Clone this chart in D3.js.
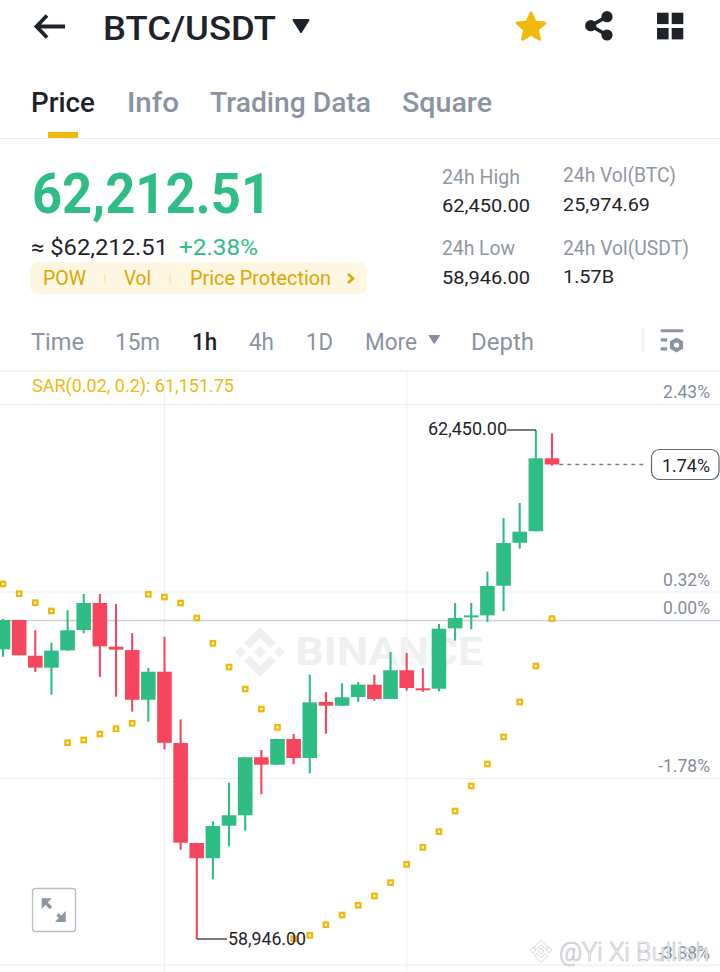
<!DOCTYPE html>
<html>
<head>
<meta charset="utf-8">
<script src="https://cdn.jsdelivr.net/npm/d3@7/dist/d3.min.js"></script>
<style>
html,body{margin:0;padding:0;background:#fff;overflow:hidden}
svg{display:block}
text{font-family:Roboto,"Noto Sans",sans-serif}
</style>
</head>
<body>
<svg id="c" width="720" height="972" viewBox="0 0 720 972"></svg>
<script>
// ---- data ----
const opens  = [60940,61142,60896,60814,60933,61073,61259,60958,60935,60593,60786,60295,59607,59502,59726,59798,60197,60146,60323,60192,60578,60552,60612,60697,60598,60796,60672,60669,61085,61161,61174,61378,61674,61753,62255];
const closes = [61142,60899,60814,60931,61071,61259,60961,60938,60593,60786,60297,59609,59502,59724,59798,60197,60146,60323,60192,60575,60552,60610,60697,60598,60796,60674,60658,61082,61156,61174,61376,61672,61750,62255,62212.51];
const highs  = [61149,61142,61071,60986,61209,61321,61321,61252,61052,60812,61027,60458,59607,59756,60022,60197,60247,60323,60357,60765,60646,60706,60715,60765,60922,60915,60810,61115,61259,61259,61475,61844,61947,62450,62427];
const lows   = [60889,60899,60784,60628,60929,61050,60750,60614,60511,60442,60252,59561,58946,59357,59584,59692,59942,60146,60149,60087,60359,60552,60578,60586,60598,60655,60648,60651,61000,61078,61128,61204,61633,61753,62204];
const sar    = [61390,61323,61261,61204,60297,60316,60357,60394,60431,61319,61300,61259,61156,60982,60818,60667,60529,60403,58948,58971,59044,59111,59178,59242,59334,59460,59577,59685,59827,59999,60151,60337,60578,60825,61151.75];
const pctTicks = [2.43,0.32,0,-1.78,-3.88];
const basePrice = 61139;
const lastPct = 1.74;
const lastPrice = 62212.51;
const dayHigh = 62450.00, dayLow = 58946.00;
const tabs = ["Price","Info","Trading Data","Square"];
const intervals = ["Time","15m","1h","4h","1D","More","Depth"];

// ---- palette ----
const INK="#1e2329", GRAY="#848e9c", GREEN="#2ebd85", RED="#f6465d", GOLD="#f0b90b", AMBER="#dea600", LINE="#eef0f2", WM="#eff0f2";

const svg = d3.select("#c");
function label(g,str,x0,x1,base,size,color,weight){
  const t=g.append("text").attr("x",x0).attr("y",base).attr("font-size",size).attr("fill",color).attr("font-weight",weight||400).text(str);
  if(x1!=null) t.attr("textLength",x1-x0).attr("lengthAdjust","spacingAndGlyphs");
  return t;
}

// ---- header ----
const head = svg.append("g");
head.append("path").attr("d","M65 26.5H38M47 15.5L36.5 26.5L47 37.5").attr("fill","none").attr("stroke",INK).attr("stroke-width",3.8);
label(head,"BTC/USDT",103,276,39.5,34,INK,500);
head.append("path").attr("d","M293.5 20H308.5L301 32Z").attr("fill",INK).attr("stroke",INK).attr("stroke-width",2).attr("stroke-linejoin","round");
const starPts = d3.range(10).map(i=>{const r=i%2?6.6:14.5,a=-Math.PI/2+i*Math.PI/5;return [531+r*Math.cos(a),27.5+r*Math.sin(a)];});
head.append("path").attr("d",d3.line()(starPts)+"Z").attr("fill",GOLD).attr("stroke",GOLD).attr("stroke-width",3).attr("stroke-linejoin","round");
head.append("path").attr("d","M607 16.7L590.7 25.7L607 35").attr("fill","none").attr("stroke",INK).attr("stroke-width",3.6);
[[607,16.7],[590.7,25.7],[607,35]].forEach(p=>head.append("circle").attr("cx",p[0]).attr("cy",p[1]).attr("r",5.6).attr("fill",INK));
[[657,12.7],[671.7,12.7],[657,28],[671.7,28]].forEach(p=>head.append("rect").attr("x",p[0]).attr("y",p[1]).attr("width",11.6).attr("height",11.4).attr("fill",INK));

// ---- tabs ----
const tabSpan=[[31,95],[127,179],[210,371],[402,492]];
tabs.forEach((t,i)=>label(head,t,tabSpan[i][0],tabSpan[i][1],112,27,i===0?INK:"#8a93a2",500));
head.append("rect").attr("x",48).attr("y",132).attr("width",30).attr("height",6).attr("fill",GOLD);
head.append("rect").attr("x",0).attr("y",138).attr("width",720).attr("height",1).attr("fill","#eaecef");

// ---- price panel ----
const panel = svg.append("g");
label(panel,d3.format(",.2f")(lastPrice),32,271,212.5,55,GREEN,700);
label(panel,"≈ $62,212.51",31,168,255,22,INK,400);
label(panel,"+2.38%",179,258,255,22,GREEN,400);
panel.append("rect").attr("x",30).attr("y",262).attr("width",337).attr("height",32).attr("rx",8).attr("fill","#fdf6e1");
label(panel,"POW",43,86,285,20,AMBER);
label(panel,"Vol",124,151,285,20,AMBER);
label(panel,"Price Protection",190,331,285,20,AMBER);
panel.selectAll(".sp").data([105,170]).join("rect").attr("x",d=>d-.75).attr("y",274).attr("width",1.5).attr("height",9).attr("fill","#f8e6a8");
panel.append("path").attr("d","M348 274L353 278.5L348 283").attr("fill","none").attr("stroke",AMBER).attr("stroke-width",2.6);
const stat="#8f97a5";
label(panel,"24h High",442,520,184,20,stat);
label(panel,d3.format(",.2f")(dayHigh),442,530,211.5,19,INK);
label(panel,"24h Vol(BTC)",563,676,182,20,stat);
label(panel,"25,974.69",563,650,211,19,INK);
label(panel,"24h Low",442,515,255,20,stat);
label(panel,d3.format(",.2f")(dayLow),442,530,284,19,INK);
label(panel,"24h Vol(USDT)",563,689,255,20,stat);
label(panel,"1.57B",563,614,283,19,INK);

// ---- interval bar ----
const bar = svg.append("g");
const intSpan=[[31,84],[115,160],[192,217],[249,274],[306,333],[365,417],[471,534]];
intervals.forEach((t,i)=>label(bar,t,intSpan[i][0],intSpan[i][1],349.5,24,t==="1h"?INK:"#8a93a2",t==="1h"?500:400));
bar.append("path").attr("d","M429 335.5H439.5L434.2 343.5Z").attr("fill",GRAY).attr("stroke",GRAY).attr("stroke-linejoin","round");
bar.append("rect").attr("x",642).attr("y",328).attr("width",1.5).attr("height",24).attr("fill","#eaecef");
bar.append("rect").attr("x",660.7).attr("y",329.3).attr("width",22.6).attr("height",3).attr("fill","#8d95a3");
[338.3,347.3].forEach(y=>bar.append("rect").attr("x",660.7).attr("y",y).attr("width",6.5).attr("height",3.2).attr("fill","#8d95a3"));
const hex=d3.range(6).map(i=>{const a=Math.PI/2+i*Math.PI/3;return [676.5+7.6*Math.cos(a),345+7.6*Math.sin(a)];});
bar.append("path").attr("d",d3.line()(hex)+"Z").attr("fill","#8d95a3");
bar.append("circle").attr("cx",676.5).attr("cy",345).attr("r",2.6).attr("fill","#fff");
bar.append("rect").attr("x",0).attr("y",370).attr("width",720).attr("height",1.5).attr("fill","#eef0f2");

// ---- scales ----
const x = d3.scaleLinear().domain([0,opens.length-1]).range([3,552]);
const y = d3.scaleLinear().domain([dayLow,dayHigh]).range([939,430]);
const pctPrice = p => basePrice*(1+p/100);
const bodyW = 14.6;

// ---- grid ----
const grid = svg.append("g");
grid.selectAll(".v").data([10,25]).join("line")
  .attr("x1",d=>x(d)).attr("x2",d=>x(d)).attr("y1",371).attr("y2",972).attr("stroke",LINE).attr("stroke-width",1.2);
grid.selectAll(".h").data(pctTicks).join("line")
  .attr("x1",0).attr("x2",720).attr("y1",d=>y(pctPrice(d))).attr("y2",d=>y(pctPrice(d)))
  .attr("stroke",d=>d===0?"#ccd0d7":LINE).attr("stroke-width",d=>d===0?1.4:1.2);

// ---- BINANCE watermark ----
const wm = svg.append("g").attr("fill",WM);
const chevTop="M260 627L276 643L270.5 648.3L260 638L249.5 648.3L244 643Z";
const chevBot="M260 677L276 661L270.5 655.7L260 666L249.5 655.7L244 661Z";
wm.append("path").attr("d",chevTop);
wm.append("path").attr("d",chevBot);
wm.append("path").attr("d","M260 646L266 652L260 658L254 652Z");
wm.append("path").attr("d","M240.5 646.5L246 652L240.5 657.5L235 652Z");
wm.append("path").attr("d","M279.5 646.5L285 652L279.5 657.5L274 652Z");
label(wm,"BINANCE",295.5,483,665,38,WM,700);

// ---- candles ----
const data = opens.map((o,i)=>({i,o,c:closes[i],h:highs[i],l:lows[i],up:closes[i]>=o}));
const candles = svg.append("g");
candles.selectAll(".wick").data(data).join("line")
  .attr("x1",d=>x(d.i)).attr("x2",d=>x(d.i)).attr("y1",d=>y(d.h)).attr("y2",d=>y(d.l))
  .attr("stroke",d=>d.up?GREEN:RED).attr("stroke-width",2.1);
candles.selectAll(".body").data(data).join("rect")
  .attr("x",d=>x(d.i)-bodyW/2).attr("width",bodyW)
  .attr("y",d=>y(Math.max(d.o,d.c)))
  .attr("height",d=>Math.max(2,Math.abs(y(d.o)-y(d.c))))
  .attr("fill",d=>d.up?GREEN:RED);

// ---- SAR ----
svg.append("g").selectAll("rect").data(sar).join("rect")
  .attr("x",(d,i)=>x(i)-2.2).attr("y",d=>y(d)-2.2).attr("width",4.4).attr("height",4.4)
  .attr("fill","#fff").attr("stroke",GOLD).attr("stroke-width",2.3);
label(svg,"SAR(0.02, 0.2): "+d3.format(",.2f")(sar[sar.length-1]),32,234,391.5,17.5,GOLD);

// ---- high/low callouts ----
const call = svg.append("g");
const hiIdx = highs.indexOf(dayHigh), loIdx = lows.indexOf(dayLow);
call.append("line").attr("x1",507).attr("x2",x(hiIdx)).attr("y1",y(dayHigh)).attr("y2",y(dayHigh)).attr("stroke",INK).attr("stroke-width",1.2);
label(call,d3.format(",.2f")(dayHigh),428,507,434.5,17.5,INK);
call.append("line").attr("x1",x(loIdx)).attr("x2",227).attr("y1",y(dayLow)).attr("y2",y(dayLow)).attr("stroke",INK).attr("stroke-width",1.2);
label(call,d3.format(",.2f")(dayLow),228,306,945,17.5,INK);

// ---- percent axis ----
const axis = d3.axisLeft(y).tickValues(pctTicks.map(pctPrice)).tickSize(0).tickPadding(0)
  .tickFormat((d,i)=>pctTicks[i].toFixed(2)+"%");
const axG = svg.append("g").attr("transform","translate(710,0)").call(axis);
axG.select(".domain").remove();
axG.selectAll("text").attr("font-size",17.5).attr("fill",GRAY).attr("dy",0)
  .attr("y",-7).attr("font-family","Roboto").attr("text-anchor","end");

// ---- last price tag ----
const tag = svg.append("g");
tag.append("line").attr("x1",x(opens.length-1)+bodyW/2).attr("x2",646).attr("y1",y(lastPrice)).attr("y2",y(lastPrice))
  .attr("stroke","#7d8592").attr("stroke-width",1.5).attr("stroke-dasharray","4 4");
tag.append("rect").attr("x",651.5).attr("y",449.5).attr("width",67.5).attr("height",30).attr("rx",8).attr("fill","#fff").attr("stroke","#5e6673").attr("stroke-width",1.2);
label(tag,d3.format(".2f")(lastPct)+"%",662,710,472,18.5,INK);

// ---- expand button ----
const ex = svg.append("g");
ex.append("rect").attr("x",32.5).attr("y",888.5).attr("width",43).attr("height",43).attr("rx",3).attr("fill","#fff").attr("stroke","#b7bdc6").attr("stroke-width",1.3);
ex.append("path").attr("d","M41.7 898.3H51.7L41.7 909Z M55 922H65.7V911Z").attr("fill","#8d95a3");
ex.append("path").attr("d","M45 902L51 908M57.5 914.5L62.5 919").attr("stroke","#8d95a3").attr("stroke-width",3.2).attr("fill","none");

// ---- author watermark ----
const au = svg.append("g").attr("fill","#fff").attr("stroke","#c4c8ce").attr("stroke-width",.7);
au.append("path").attr("d","M541 940L548 947L545.5 949L541 945L536.5 949L534 947Z");
au.append("path").attr("d","M533 947L536 950L533 953L530 950Z M549 947L552 950L549 953L546 950Z M541 948L544 951L541 954L538 951Z");
au.append("path").attr("d","M541 962.5L548 955.5L545.5 953.5L541 957.5L536.5 953.5L534 955.5Z");
label(au,"@Yi Xi Bullish",559,709,961,25,"#fff",300).attr("stroke","#bfc3ca").attr("stroke-width",.7);
</script>
</body>
</html>
